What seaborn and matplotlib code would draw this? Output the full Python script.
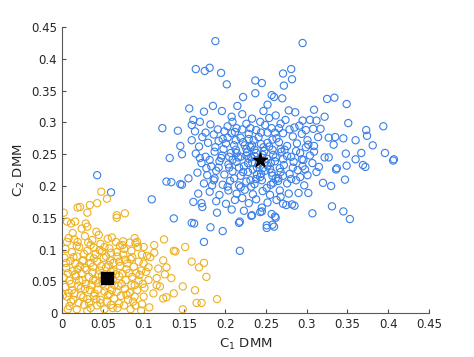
import numpy as np
import pandas as pd
import seaborn as sns
import matplotlib.pyplot as plt
from matplotlib.ticker import FuncFormatter

# Points (C1, C2) -- core regions estimated by eye
blue_pts = [
    # outliers
    (0.188, 0.428), (0.164, 0.384), (0.175, 0.381), (0.181, 0.386), (0.195, 0.378), (0.202, 0.360),
    (0.156, 0.322), (0.185, 0.326), (0.174, 0.317), (0.123, 0.291), (0.142, 0.287), (0.161, 0.304),
    (0.159, 0.296), (0.169, 0.301), (0.163, 0.286), (0.145, 0.263), (0.147, 0.250), (0.132, 0.244),
    (0.159, 0.272), (0.043, 0.217), (0.060, 0.190), (0.110, 0.179), (0.137, 0.149), (0.159, 0.142),
    (0.162, 0.141), (0.174, 0.112), (0.182, 0.135), (0.197, 0.129), (0.190, 0.158), (0.161, 0.175),
    (0.171, 0.173), (0.172, 0.167), (0.167, 0.188), (0.128, 0.207), (0.134, 0.206), (0.145, 0.203),
    (0.147, 0.202), (0.155, 0.212),
    (0.295, 0.425), (0.281, 0.384), (0.271, 0.377), (0.282, 0.368), (0.272, 0.358), (0.237, 0.366),
    (0.245, 0.362), (0.222, 0.340), (0.237, 0.346), (0.257, 0.343), (0.260, 0.340), (0.270, 0.338),
    (0.325, 0.337), (0.334, 0.339), (0.349, 0.329), (0.309, 0.320), (0.322, 0.309), (0.295, 0.303),
    (0.304, 0.304), (0.312, 0.303), (0.351, 0.299), (0.394, 0.294), (0.373, 0.288), (0.374, 0.279),
    (0.381, 0.264), (0.396, 0.252), (0.407, 0.242), (0.406, 0.240), (0.360, 0.272), (0.367, 0.252),
    (0.348, 0.251), (0.360, 0.242), (0.369, 0.233), (0.372, 0.230), (0.349, 0.232), (0.327, 0.276),
    (0.333, 0.265), (0.345, 0.275), (0.335, 0.277), (0.322, 0.245), (0.327, 0.245), (0.317, 0.290),
    (0.308, 0.290), (0.299, 0.288), (0.314, 0.277), (0.302, 0.265), (0.309, 0.263), (0.296, 0.241),
    (0.315, 0.230), (0.337, 0.228), (0.336, 0.226), (0.331, 0.168), (0.345, 0.160), (0.353, 0.148),
    (0.307, 0.157), (0.282, 0.171), (0.285, 0.169), (0.251, 0.134), (0.260, 0.136), (0.258, 0.139),
    (0.218, 0.098), (0.232, 0.153), (0.243, 0.159), (0.245, 0.160), (0.257, 0.156), (0.262, 0.150),
    (0.217, 0.142), (0.223, 0.161), (0.275, 0.170), (0.330, 0.200), (0.320, 0.205), (0.302, 0.189),
    (0.290, 0.189), (0.347, 0.210), (0.261, 0.152), (0.251, 0.138), (0.218, 0.144), (0.233, 0.154),
    # core
    (0.196, 0.318), (0.208, 0.309), (0.221, 0.313), (0.233, 0.306), (0.247, 0.318), (0.262, 0.311),
    (0.274, 0.304), (0.286, 0.316), (0.215, 0.326), (0.252, 0.328),
    (0.182, 0.297), (0.191, 0.289), (0.203, 0.294), (0.214, 0.291), (0.226, 0.298), (0.238, 0.288),
    (0.249, 0.296), (0.257, 0.291), (0.268, 0.298), (0.279, 0.289), (0.291, 0.295), (0.176, 0.284),
    (0.172, 0.277), (0.186, 0.281), (0.197, 0.274), (0.208, 0.283), (0.219, 0.276), (0.229, 0.282),
    (0.241, 0.277), (0.252, 0.284), (0.263, 0.275), (0.271, 0.283), (0.283, 0.278), (0.294, 0.282),
    (0.199, 0.286),
    (0.168, 0.262), (0.179, 0.268), (0.188, 0.261), (0.201, 0.267), (0.211, 0.264), (0.222, 0.269),
    (0.231, 0.261), (0.244, 0.266), (0.254, 0.262), (0.266, 0.269), (0.276, 0.263), (0.288, 0.267),
    (0.299, 0.261), (0.235, 0.272), (0.258, 0.273),
    (0.164, 0.251), (0.176, 0.246), (0.187, 0.254), (0.196, 0.248), (0.207, 0.252), (0.216, 0.245),
    (0.227, 0.253), (0.236, 0.247), (0.248, 0.255), (0.259, 0.249), (0.269, 0.254), (0.281, 0.246),
    (0.292, 0.252), (0.304, 0.248), (0.226, 0.258), (0.213, 0.257),
    (0.171, 0.236), (0.183, 0.231), (0.193, 0.239), (0.204, 0.234), (0.214, 0.238), (0.223, 0.231),
    (0.233, 0.237), (0.252, 0.232), (0.261, 0.239), (0.272, 0.233), (0.284, 0.238), (0.295, 0.231),
    (0.307, 0.236), (0.246, 0.228), (0.229, 0.243),
    (0.166, 0.221), (0.178, 0.217), (0.189, 0.224), (0.199, 0.218), (0.209, 0.223), (0.219, 0.216),
    (0.228, 0.222), (0.239, 0.218), (0.249, 0.224), (0.258, 0.216), (0.268, 0.222), (0.279, 0.219),
    (0.289, 0.225), (0.301, 0.217), (0.312, 0.222),
    (0.174, 0.204), (0.186, 0.209), (0.197, 0.202), (0.206, 0.208), (0.217, 0.201), (0.226, 0.207),
    (0.236, 0.203), (0.245, 0.209), (0.256, 0.202), (0.265, 0.208), (0.276, 0.204), (0.287, 0.209),
    (0.297, 0.201), (0.243, 0.214), (0.262, 0.212),
    (0.181, 0.191), (0.193, 0.186), (0.204, 0.193), (0.214, 0.188), (0.224, 0.194), (0.234, 0.187),
    (0.246, 0.192), (0.255, 0.186), (0.267, 0.193), (0.278, 0.188), (0.221, 0.181),
    (0.189, 0.176), (0.201, 0.172), (0.212, 0.178), (0.229, 0.173), (0.238, 0.179), (0.252, 0.174),
    (0.263, 0.178), (0.271, 0.172), (0.245, 0.166), (0.208, 0.163),
    (0.232, 0.245), (0.238, 0.252), (0.251, 0.243), (0.256, 0.236), (0.241, 0.234), (0.228, 0.236),
    (0.219, 0.246), (0.247, 0.261), (0.262, 0.245), (0.217, 0.229), (0.234, 0.226), (0.255, 0.227),
    (0.271, 0.242), (0.224, 0.264), (0.244, 0.284), (0.209, 0.241), (0.198, 0.258), (0.273, 0.257),
    (0.283, 0.229), (0.265, 0.212), (0.238, 0.211), (0.211, 0.212), (0.192, 0.229), (0.203, 0.276),
    (0.231, 0.291), (0.261, 0.284), (0.287, 0.255), (0.281, 0.211), (0.219, 0.198), (0.251, 0.197),
    (0.236, 0.257), (0.249, 0.238), (0.226, 0.248), (0.239, 0.229), (0.258, 0.257), (0.214, 0.252),
    (0.205, 0.229), (0.267, 0.228), (0.276, 0.247), (0.252, 0.268), (0.229, 0.274), (0.213, 0.272),
    (0.195, 0.244), (0.187, 0.212), (0.203, 0.199), (0.232, 0.199), (0.257, 0.221), (0.271, 0.216),
    (0.294, 0.242), (0.301, 0.272), (0.285, 0.292), (0.266, 0.291), (0.221, 0.289), (0.209, 0.301),
    (0.243, 0.301), (0.268, 0.258), (0.222, 0.222), (0.244, 0.219), (0.231, 0.209), (0.205, 0.246),
    (0.181, 0.241), (0.192, 0.271), (0.212, 0.285), (0.254, 0.307), (0.278, 0.319), (0.184, 0.201),
    (0.268, 0.183), (0.292, 0.214), (0.309, 0.254), (0.298, 0.226), (0.177, 0.228), (0.169, 0.244),
    (0.246, 0.249), (0.233, 0.264), (0.259, 0.205),
]

yellow_pts = [
    # outliers
    (0.048, 0.191), (0.043, 0.173), (0.055, 0.180), (0.034, 0.170), (0.022, 0.167), (0.019, 0.166),
    (0.002, 0.158), (0.031, 0.158), (0.006, 0.144), (0.016, 0.144), (0.067, 0.154), (0.077, 0.157),
    (0.067, 0.150), (0.029, 0.141), (0.125, 0.116), (0.137, 0.098), (0.139, 0.097), (0.151, 0.104),
    (0.113, 0.107), (0.124, 0.083), (0.128, 0.072), (0.116, 0.055), (0.134, 0.055), (0.159, 0.081),
    (0.168, 0.072), (0.174, 0.079), (0.177, 0.057), (0.163, 0.036), (0.148, 0.042), (0.190, 0.022),
    (0.165, 0.016), (0.171, 0.016), (0.148, 0.006), (0.137, 0.031), (0.124, 0.023), (0.128, 0.025),
    (0.100, 0.026), (0.097, 0.004), (0.087, 0.018), (0.101, 0.040), (0.106, 0.052), (0.116, 0.044),
    (0.100, 0.078), (0.106, 0.072), (0.104, 0.090), (0.100, 0.104), (0.090, 0.110), (0.075, 0.113),
    (0.095, 0.060), (0.103, 0.065), (0.108, 0.088), (0.112, 0.031), (0.118, 0.070), (0.098, 0.014),
    (0.107, 0.009), (0.092, 0.112), (0.113, 0.095), (0.120, 0.042), (0.126, 0.061), (0.099, 0.046),
    # core
    (0.008, 0.118), (0.019, 0.112), (0.028, 0.121), (0.037, 0.115), (0.047, 0.109), (0.056, 0.117),
    (0.066, 0.112), (0.074, 0.107), (0.083, 0.111), (0.013, 0.126), (0.042, 0.128), (0.024, 0.133),
    (0.004, 0.101), (0.012, 0.096), (0.021, 0.104), (0.031, 0.098), (0.039, 0.103), (0.049, 0.097),
    (0.058, 0.102), (0.067, 0.096), (0.076, 0.101), (0.085, 0.098), (0.093, 0.104),
    (0.003, 0.087), (0.010, 0.082), (0.018, 0.089), (0.026, 0.083), (0.034, 0.088), (0.043, 0.081),
    (0.051, 0.087), (0.059, 0.083), (0.068, 0.089), (0.077, 0.084), (0.086, 0.088), (0.094, 0.081),
    (0.005, 0.071), (0.013, 0.066), (0.022, 0.074), (0.030, 0.068), (0.038, 0.073), (0.046, 0.067),
    (0.054, 0.072), (0.063, 0.066), (0.071, 0.074), (0.079, 0.069), (0.088, 0.073), (0.097, 0.067),
    (0.002, 0.056), (0.009, 0.051), (0.017, 0.058), (0.025, 0.052), (0.033, 0.057), (0.041, 0.051),
    (0.049, 0.059), (0.062, 0.053), (0.070, 0.058), (0.078, 0.052), (0.086, 0.057), (0.094, 0.051),
    (0.004, 0.041), (0.012, 0.036), (0.020, 0.043), (0.028, 0.038), (0.036, 0.044), (0.044, 0.037),
    (0.053, 0.042), (0.061, 0.036), (0.069, 0.043), (0.077, 0.038), (0.085, 0.044), (0.092, 0.036),
    (0.006, 0.026), (0.014, 0.021), (0.023, 0.028), (0.031, 0.022), (0.039, 0.027), (0.047, 0.021),
    (0.056, 0.028), (0.064, 0.023), (0.072, 0.027), (0.081, 0.021), (0.089, 0.026),
    (0.009, 0.011), (0.018, 0.006), (0.027, 0.013), (0.035, 0.008), (0.043, 0.012), (0.052, 0.006),
    (0.060, 0.013), (0.068, 0.008), (0.076, 0.012), (0.084, 0.006),
    (0.016, 0.078), (0.024, 0.062), (0.035, 0.079), (0.045, 0.061), (0.029, 0.046), (0.040, 0.031),
    (0.050, 0.046), (0.058, 0.030), (0.066, 0.061), (0.073, 0.046), (0.082, 0.063), (0.020, 0.016),
    (0.033, 0.016), (0.047, 0.016), (0.011, 0.046), (0.015, 0.031), (0.054, 0.089), (0.063, 0.079),
    (0.027, 0.093), (0.041, 0.093), (0.007, 0.063), (0.064, 0.044), (0.083, 0.032), (0.075, 0.092),
    (0.018, 0.106), (0.035, 0.107), (0.052, 0.104), (0.061, 0.119), (0.071, 0.106), (0.089, 0.118),
    (0.098, 0.092), (0.006, 0.112), (0.011, 0.141), (0.031, 0.136), (0.045, 0.123),
    (0.021, 0.051), (0.037, 0.064), (0.028, 0.071), (0.044, 0.047), (0.019, 0.069), (0.034, 0.036),
    (0.026, 0.025), (0.052, 0.034), (0.060, 0.065), (0.039, 0.086), (0.048, 0.074), (0.014, 0.088),
    (0.008, 0.032), (0.011, 0.018), (0.023, 0.039), (0.042, 0.022), (0.055, 0.018), (0.067, 0.033),
    (0.074, 0.062), (0.080, 0.078), (0.091, 0.063), (0.089, 0.044), (0.079, 0.029), (0.070, 0.015),
    (0.057, 0.076), (0.032, 0.111), (0.015, 0.116), (0.060, 0.095), (0.005, 0.079), (0.001, 0.028),
    (0.046, 0.099), (0.070, 0.081), (0.084, 0.085), (0.025, 0.082), (0.038, 0.052), (0.016, 0.061),
    (0.062, 0.008), (0.090, 0.012), (0.031, 0.004), (0.007, 0.006),
]

blue_center = (0.243, 0.241)
yellow_center = (0.055, 0.055)

ticks = [0, 0.05, 0.1, 0.15, 0.2, 0.25, 0.3, 0.35, 0.4, 0.45]

blue = pd.DataFrame(blue_pts, columns=['c1', 'c2'])
yellow = pd.DataFrame(yellow_pts, columns=['c1', 'c2'])

sns.set_style('ticks')
plt.rcParams['font.family'] = ['DejaVu Sans']

fig = plt.figure(figsize=(4.74, 3.57), dpi=100)
ax = fig.add_axes([0.131, 0.123, 0.774, 0.801])

sns.scatterplot(data=blue, x='c1', y='c2', ax=ax, marker='o', s=27,
                facecolors='none', edgecolors='#3a7fe6', linewidth=0.8)
sns.scatterplot(data=yellow, x='c1', y='c2', ax=ax, marker='o', s=27,
                facecolors='none', edgecolors='#edb120', linewidth=0.8)

ax.scatter([blue_center[0]], [blue_center[1]], marker='*', s=110, color='black', zorder=5)
ax.scatter([yellow_center[0]], [yellow_center[1]], marker='s', s=75, color='black', zorder=5)

ax.set_xlim(0, 0.45)
ax.set_ylim(0, 0.45)
ax.set_xticks(ticks)
ax.set_yticks(ticks)
fmt = FuncFormatter(lambda v, p: f'{v:g}')
ax.xaxis.set_major_formatter(fmt)
ax.yaxis.set_major_formatter(fmt)
ax.tick_params(direction='in', length=3, width=0.8, labelsize=8.5, color='0.3', labelcolor='0.15')
for s in ['left', 'bottom']:
    ax.spines[s].set_color('0.35')
    ax.spines[s].set_linewidth(0.8)
sns.despine(ax=ax)

ax.set_xlabel('C$_1$ DMM', fontsize=9.5, color='0.15', labelpad=4)
ax.set_ylabel('C$_2$ DMM', fontsize=9.5, color='0.15', labelpad=3)

fig.savefig('out.png', dpi=100)
